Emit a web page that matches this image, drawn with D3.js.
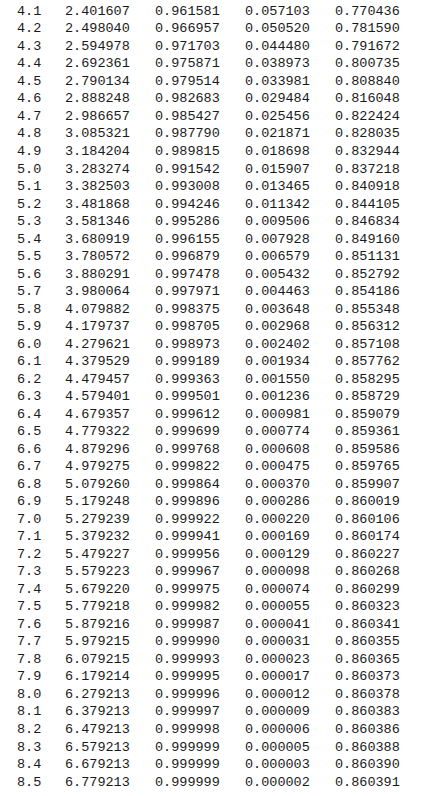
<!DOCTYPE html>
<html>
<head>
<meta charset="utf-8">
<script src="https://cdn.jsdelivr.net/npm/d3@7"></script>
<style>
	body { margin: 0; background: #fff; }
	text { font-family: "Liberation Mono", "DejaVu Sans Mono", monospace; font-size: 13.5px; fill: #1a1a1a; }
</style>
</head>
<body>
<svg id="svg"></svg>
<script>
// table columns, as printed
const xs = ["4.1","4.2","4.3","4.4","4.5","4.6","4.7","4.8","4.9","5.0","5.1","5.2","5.3","5.4","5.5",
	"5.6","5.7","5.8","5.9","6.0","6.1","6.2","6.3","6.4","6.5","6.6","6.7","6.8","6.9","7.0",
	"7.1","7.2","7.3","7.4","7.5","7.6","7.7","7.8","7.9","8.0","8.1","8.2","8.3","8.4","8.5"];
const colA = ["2.401607","2.498040","2.594978","2.692361","2.790134","2.888248","2.986657","3.085321","3.184204","3.283274","3.382503","3.481868","3.581346","3.680919","3.780572",
	"3.880291","3.980064","4.079882","4.179737","4.279621","4.379529","4.479457","4.579401","4.679357","4.779322","4.879296","4.979275","5.079260","5.179248","5.279239",
	"5.379232","5.479227","5.579223","5.679220","5.779218","5.879216","5.979215","6.079215","6.179214","6.279213","6.379213","6.479213","6.579213","6.679213","6.779213"];
const colB = ["0.961581","0.966957","0.971703","0.975871","0.979514","0.982683","0.985427","0.987790","0.989815","0.991542","0.993008","0.994246","0.995286","0.996155","0.996879",
	"0.997478","0.997971","0.998375","0.998705","0.998973","0.999189","0.999363","0.999501","0.999612","0.999699","0.999768","0.999822","0.999864","0.999896","0.999922",
	"0.999941","0.999956","0.999967","0.999975","0.999982","0.999987","0.999990","0.999993","0.999995","0.999996","0.999997","0.999998","0.999999","0.999999","0.999999"];
const colC = ["0.057103","0.050520","0.044480","0.038973","0.033981","0.029484","0.025456","0.021871","0.018698","0.015907","0.013465","0.011342","0.009506","0.007928","0.006579",
	"0.005432","0.004463","0.003648","0.002968","0.002402","0.001934","0.001550","0.001236","0.000981","0.000774","0.000608","0.000475","0.000370","0.000286","0.000220",
	"0.000169","0.000129","0.000098","0.000074","0.000055","0.000041","0.000031","0.000023","0.000017","0.000012","0.000009","0.000006","0.000005","0.000003","0.000002"];
const colD = ["0.770436","0.781590","0.791672","0.800735","0.808840","0.816048","0.822424","0.828035","0.832944","0.837218","0.840918","0.844105","0.846834","0.849160","0.851131",
	"0.852792","0.854186","0.855348","0.856312","0.857108","0.857762","0.858295","0.858729","0.859079","0.859361","0.859586","0.859765","0.859907","0.860019","0.860106",
	"0.860174","0.860227","0.860268","0.860299","0.860323","0.860341","0.860355","0.860365","0.860373","0.860378","0.860383","0.860386","0.860388","0.860390","0.860391"];

let width = 437,
	height = 796,
	columns = [xs, colA, colB, colC, colD],
	colX = [17, 65, 155, 245, 335];

const svg = d3.select("svg#svg")
	.attr("width", width)
	.attr("height", height);

const yScale = d3.scaleLinear()
	.domain([0, xs.length - 1])
	.range([10, 780.7]);

columns.forEach(function(col, c) {
	svg.append("g")
		.selectAll("text")
		.data(col)
		.enter()
		.append("text")
		.attr("x", colX[c])
		.attr("y", (d, i) => yScale(i))
		.attr("dy", "0.36em")
		.text(d => d);
});
</script>
</body>
</html>
